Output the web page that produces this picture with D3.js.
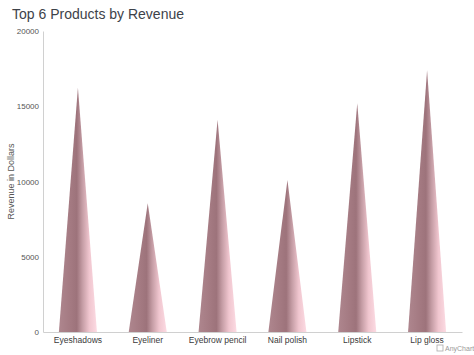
<!DOCTYPE html>
<html>
<head>
<meta charset="utf-8">
<script src="https://cdn.jsdelivr.net/npm/d3@7"></script>
<style>
  html, body { margin: 0; padding: 0; background: #fff; }
  svg { display: block; font-family: "Liberation Sans", Arial, sans-serif; }
</style>
</head>
<body>
<svg id="chart" width="474" height="355"></svg>
<script>
const categories = ["Eyeshadows", "Eyeliner", "Eyebrow pencil", "Nail polish", "Lipstick", "Lip gloss"];
const revenue = [16250, 8550, 14100, 10100, 15200, 17400];
const yTicks = [0, 5000, 10000, 15000, 20000];

const svg = d3.select("#chart");
const W = 474, H = 355;
const m = { left: 43, right: 12, top: 31, bottom: 23 };

const x = d3.scaleBand().domain(categories)
  .range([m.left, W - m.right])
  .paddingInner(0.455).paddingOuter(0.2275);
const y = d3.scaleLinear().domain([0, 20000]).range([H - m.bottom, m.top]);

const defs = svg.append("defs");
const grad = defs.append("linearGradient").attr("id", "cone")
  .attr("x1", "0%").attr("x2", "100%").attr("y1", "0%").attr("y2", "0%");
[["0%", "#ae868e"], ["30%", "#a47a82"], ["47%", "#9d737b"], ["62%", "#c59da5"], ["80%", "#f0c6cf"], ["100%", "#fcdbe3"]]
  .forEach(([o, c]) => grad.append("stop").attr("offset", o).attr("stop-color", c));

// title
svg.append("text").attr("x", 12).attr("y", 19)
  .attr("font-size", 14).attr("fill", "#3d4249")
  .text("Top 6 Products by Revenue");

// y axis
const yAxis = d3.axisLeft(y).tickValues(yTicks).tickSize(0).tickPadding(4).tickFormat(d3.format("d"));
const gy = svg.append("g").attr("transform", `translate(${m.left},0)`).call(yAxis);
gy.select(".domain").attr("stroke", "#d0d0d0");
gy.selectAll("text").attr("font-size", 8).attr("fill", "#555").attr("font-family", "Liberation Sans, Arial, sans-serif");

svg.append("text")
  .attr("transform", `translate(14,${(m.top + H - m.bottom) / 2}) rotate(-90)`)
  .attr("text-anchor", "middle").attr("font-size", 9).attr("fill", "#555")
  .text("Revenue in Dollars");

// cones
svg.append("g").selectAll("path").data(categories).join("path")
  .attr("d", (c, i) => {
    const x0 = x(c), x1 = x(c) + x.bandwidth(), xm = x(c) + x.bandwidth() / 2;
    return `M${x0},${y(0)} L${xm},${y(revenue[i])} L${x1},${y(0)} Z`;
  })
  .attr("fill", "url(#cone)");

// x axis
const xAxis = d3.axisBottom(x).tickSize(0).tickPadding(5);
const gx = svg.append("g").attr("transform", `translate(0,${y(0)})`).call(xAxis);
gx.select(".domain").attr("stroke", "#d0d0d0");
gx.selectAll("text").attr("font-size", 8.5).attr("fill", "#3a3a3a").attr("font-family", "Liberation Sans, Arial, sans-serif");

// credits
const cr = svg.append("g").attr("transform", "translate(437,345)");
cr.append("rect").attr("x", 0).attr("y", 0).attr("width", 6).attr("height", 6).attr("fill", "none").attr("stroke", "#aaa").attr("stroke-width", 0.8);
cr.append("text").attr("x", 8).attr("y", 6).attr("font-size", 7).attr("fill", "#999").text("AnyChart");
</script>
</body>
</html>
